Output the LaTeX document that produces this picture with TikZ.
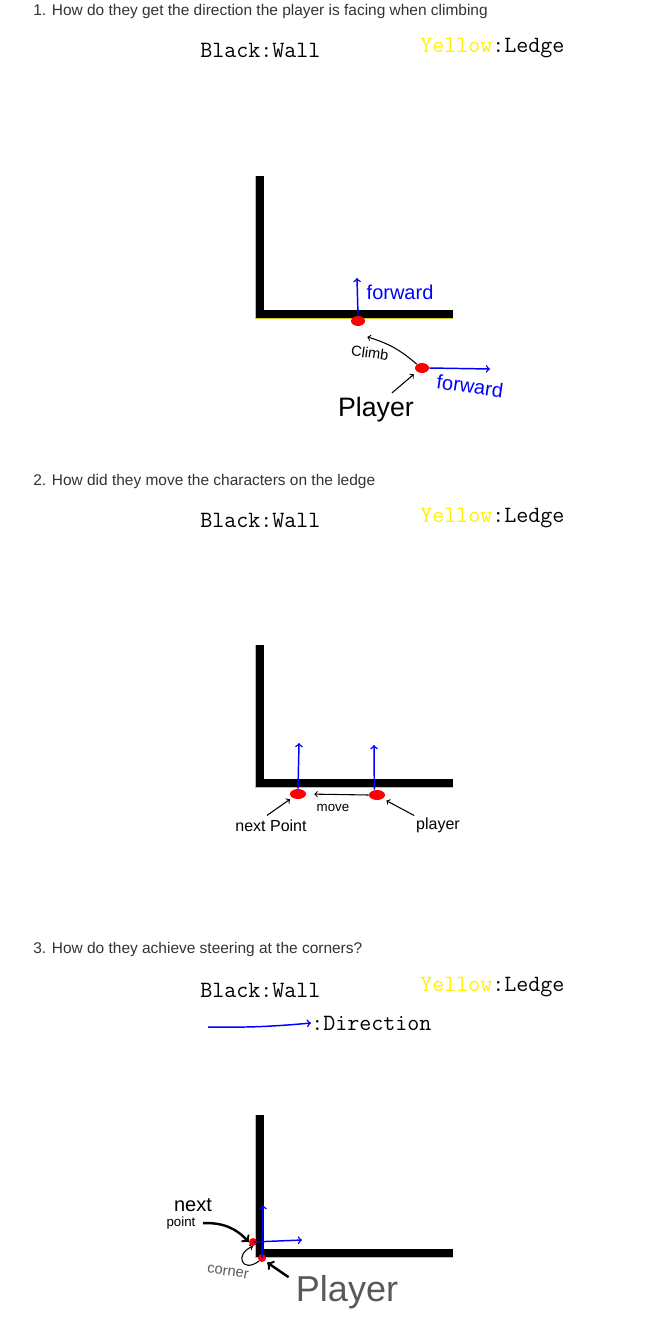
\documentclass[tikz,border=0pt]{standalone}
\usepackage{fontspec}
\setsansfont{Liberation Sans}
\usetikzlibrary{positioning, calc}
\usetikzlibrary{arrows}
\usetikzlibrary{shapes.geometric}
\tikzset{wall/.style={line width=6pt, black}}
\tikzset{ledge/.style={line width=0.9pt, yellow!80!black}}
\tikzset{pt/.style={ellipse,fill=red,minimum width=10.5pt,minimum height=7.5pt,inner
sep=0pt}}
\tikzset{spt/.style={circle,fill=red,minimum size=6pt,inner sep=0pt}}
\tikzset{dir/.style={->, blue, line width=1.1pt}}
\tikzset{ma/.style={->, line width=0.8pt}}
\tikzset{tk/.style={->, line width=1.8pt}}
\tikzset{qu/.style={anchor=west, inner sep=0pt, text=black!80, font=\sffamily\fontsize{11.6}{13}\selectfont}}
\tikzset{key/.style={anchor=west, inner sep=0pt, font=\ttfamily\fontsize{17.5}{20}\selectfont}}
\newcommand{\hw}[1]{\sffamily\fontsize{#1}{#1}\selectfont}

\begin{document}
\begin{tikzpicture}[x=0.75pt, y=-0.75pt]
\useasboundingbox (0,0) rectangle (671,1334);

% walls and ledges
\foreach \c in {314, 783, 1253}{
  \draw[wall] (260,\c-138) -- (260,\c) -- (453,\c);
  \draw[ledge] (255.3,\c-138) -- (255.3,\c+4.7) -- (453,\c+4.7);
}

% 1.
\node[qu] (q1) at (33,12) {1. How do they get the direction the player is facing when climbing};
\node[key] (k1) at (200,50) {Black:Wall};
\node[key] (l1) at (420,48) {\textcolor{yellow}{Yellow}:Ledge};

\node[pt] (top1) at (358,321) {};
\node[pt] (pl1) at (422,368) {};
\coordinate (f1) at (357,278);
\coordinate (g1) at (490,369);
\draw[dir] (top1.north) -- (f1);
\draw[dir] (pl1.east) -- (g1);
\node[anchor=west, text=blue] (fa1) at (362,292) {\hw{15}forward};
\node[text=blue, rotate=-8] (fb1) at (470,386) {\hw{15}forward};
\draw[ma] (pl1.north west) to[bend right=12] ([xshift=7pt,yshift=-8pt]top1.south);
\node[rotate=-8] (cl1) at (370,353) {\hw{11}Climb};
\node (pp1) at (376,410) {\hw{20}Player};
\draw[ma, shorten >=3pt] ([xshift=12pt]pp1.north) -- (pl1.south west);

% 2.
\node[qu] (q2) at (33,481) {2. How did they move the characters on the ledge};
\node[key] (k2) at (200,520) {Black:Wall};
\node[key] (l2) at (420,518) {\textcolor{yellow}{Yellow}:Ledge};

\node[pt, minimum width=12pt] (np2) at (298,794) {};
\node[pt, minimum width=12pt] (pl2) at (377,795) {};
\coordinate (u2a) at (299,743);
\coordinate (u2b) at (374,745);
\draw[dir] (np2.north) -- (u2a);
\draw[dir] ([xshift=-2pt]pl2.north) -- (u2b);
\draw[ma, shorten >=6pt] (pl2.west) -- (np2.east);
\node (mv2) at (333,808) {\hw{10}move};
\node (nl2) at (271,826) {\hw{12}next Point};
\draw[ma, shorten >=2pt] ([xshift=-3pt]nl2.north) -- (np2.south west);
\node (pp2) at (438,825) {\hw{12}player};
\draw[ma, shorten >=3pt] ([xshift=2pt,yshift=-2pt]pp2.north west) -- (pl2.south east);

% 3.
\node[qu] (q3) at (33,949) {3. How do they achieve steering at the corners?};
\node[key] (k3) at (200,990) {Black:Wall};
\node[key] (l3) at (420,987) {\textcolor{yellow}{Yellow}:Ledge};
\node[key] (dk3) at (311,1023) {:Direction};
\coordinate (d3) at (208,1027);
\draw[dir] (d3) to[bend right=3] (dk3.west);

\node[spt] (np3) at (253,1242) {};
\node[spt] (co3) at (262,1258) {};
\coordinate (u3) at (263,1205);
\coordinate (r3) at (302,1240);
\draw[dir] (co3.center) -- (u3);
\draw[dir] (np3.center) -- (r3);
\node (nx3) at (193,1205) {\hw{15}next};
\node[below=-3pt of nx3, xshift=-9pt] (po3) {\hw{10}point};
\draw[tk] ([xshift=2pt]po3.east) to[bend left=25] (np3.west);
\draw[ma] (co3.south west) .. controls (242,1274) and (234,1254) .. (np3.south);
\node[rotate=-8, text=black!65] (cn3) at (228,1272) {\hw{11}corner};
\node[text=black!65] (pp3) at (347,1292) {\hw{27}Player};
\draw[tk, shorten >=2pt] ([xshift=-2pt,yshift=-5pt]pp3.north west) -- (co3.south east);
\end{tikzpicture}
\end{document}
